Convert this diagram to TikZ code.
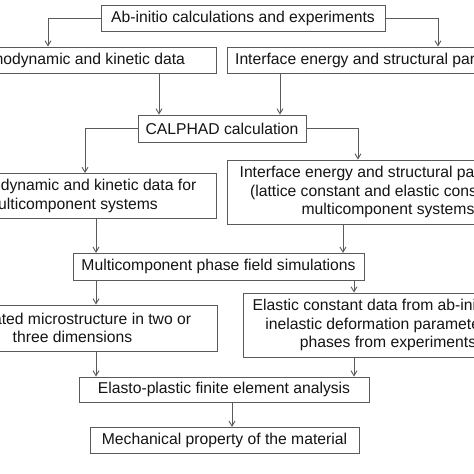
\documentclass[tikz,border=0pt]{standalone}
\usepackage{fontspec}
\setmainfont{Liberation Sans}
\usetikzlibrary{arrows.meta}

\definecolor{linegray}{RGB}{90,90,90}
\definecolor{textblack}{RGB}{20,20,20}

\begin{document}
\begin{tikzpicture}[x=1pt, y=-1pt, >={Straight Barb[length=5pt,width=6pt]},
  box/.style={draw=linegray, line width=0.9pt, inner sep=0pt, align=center,
    text=textblack, font=\fontsize{15.7}{18.5}\selectfont},
  arr/.style={->, draw=linegray, line width=0.9pt}]
\useasboundingbox (0,0) rectangle (474,474);
\fill[white] (0,0) rectangle (474,474);
\clip (0,0) rectangle (474,474);

% boxes, top to bottom
\node[box, minimum width=284pt, minimum height=26pt] (abinitio) at (243,18)
  {Ab-initio calculations and experiments};
\node[box, minimum width=289pt, minimum height=26pt] (thermo) at (71.5,60)
  {Thermodynamic and kinetic data};
\node[box, minimum width=313pt, minimum height=26pt] (iface) at (383.5,60)
  {Interface energy and structural parameters};
\node[box, minimum width=168pt, minimum height=27pt] (calphad) at (222,128.5)
  {CALPHAD calculation};
\node[box, minimum width=289pt, minimum height=45pt] (thermomc) at (71.5,196)
  {Thermodynamic and kinetic data for\\multicomponent systems};
\node[box, minimum width=322pt, minimum height=64pt] (ifacemc) at (388,192)
  {Interface energy and structural parameters\\(lattice constant and elastic constant) of\\multicomponent systems};
\node[box, minimum width=291pt, minimum height=27pt] (phasefield) at (218.5,266.8)
  {Multicomponent phase field simulations};
\node[box, minimum width=289pt, minimum height=46pt] (micro) at (72.5,328)
  {Simulated microstructure in two or\\three dimensions};
\node[box, minimum width=290pt, minimum height=64pt] (elastic) at (388,325)
  {Elastic constant data from ab-initio and\\inelastic deformation parameters of\\phases from experiments};
\node[box, minimum width=290pt, minimum height=25pt] (fem) at (224,389.5)
  {Elasto-plastic finite element analysis};
\node[box, minimum width=269pt, minimum height=26pt] (mech) at (224.5,440.3)
  {Mechanical property of the material};

% x positions of the drops
\coordinate (xa) at (48,0);
\coordinate (xb) at (438,0);
\coordinate (xc) at (159,0);
\coordinate (xd) at (280,0);
\coordinate (xe) at (85,0);
\coordinate (xf) at (358,0);
\coordinate (xg) at (96,0);
\coordinate (xh) at (343,0);
\coordinate (xi) at (354,0);
\coordinate (xj) at (232,0);

% connectors
\draw[arr] (abinitio.west) -| (thermo.north -| xa);
\draw[arr] (abinitio.east) -| (iface.north -| xb);
\draw[arr] (thermo.south -| xc) -- (calphad.north -| xc);
\draw[arr] (iface.south -| xd) -- (calphad.north -| xd);
\draw[arr] (calphad.west) -| (thermomc.north -| xe);
\draw[arr] (calphad.east) -| (ifacemc.north -| xf);
\draw[arr] (thermomc.south -| xg) -- (phasefield.north -| xg);
\draw[arr] (ifacemc.south -| xh) -- (phasefield.north -| xh);
\draw[arr] (phasefield.south -| xg) -- (micro.north -| xg);
\draw[arr] (phasefield.south -| xi) -- (elastic.north -| xi);
\draw[arr] (micro.south -| xg) -- (fem.north -| xg);
\draw[arr] (elastic.south -| xi) -- (fem.north -| xi);
\draw[arr] (fem.south -| xj) -- (mech.north -| xj);
\end{tikzpicture}
\end{document}
